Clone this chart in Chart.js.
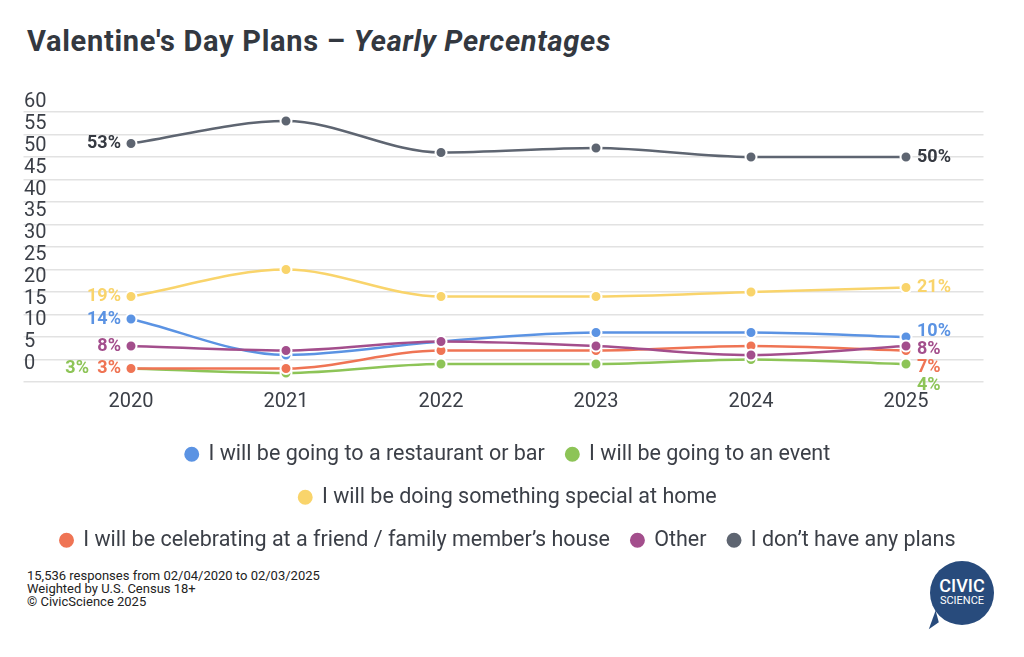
<!DOCTYPE html>
<html>
<head>
<meta charset="utf-8">
<script src="https://cdn.jsdelivr.net/npm/chart.js@4.4.1/dist/chart.umd.min.js"></script>
<style>
  body { margin: 0; background: #fff; font-family: Roboto, sans-serif; }
  #wrap { position: relative; width: 1024px; height: 657px; overflow: hidden; }
  h1 { position: absolute; left: 27px; top: 27px; margin: 0; font-size: 29px; line-height: 29px; letter-spacing: 0.7px; font-weight: 700; color: #333840; }
  h1 em { font-style: italic; }
  #box { position: absolute; left: 0; top: 0; width: 1024px; height: 561px; }
  .foot { position: absolute; left: 27px; top: 569px; font-size: 13px; line-height: 13px; color: #222; }
  .logo { position: absolute; left: 930px; top: 561px; width: 64px; height: 64px; border-radius: 50%; background: #284b7c; color: #fff; text-align: center; }
  .logo:after { content: ""; position: absolute; left: 2px; top: 50px; border-left: 7px solid #284b7c; border-top: 10px solid transparent; border-bottom: 10px solid transparent; transform: rotate(20deg); }
  .logo b { display: block; margin-top: 16px; font-size: 18px; line-height: 18px; font-weight: 500; }
  .logo span { display: block; font-size: 11px; line-height: 12px; }
</style>
</head>
<body>
<div id="wrap">
  <h1>Valentine's Day Plans – <em>Yearly Percentages</em></h1>
  <div id="box"><canvas id="myChart"></canvas></div>
  <div class="foot">15,536 responses from 02/04/2020 to 02/03/2025<br>Weighted by U.S. Census 18+<br>© CivicScience 2025</div>
  <div class="logo"><b>CIVIC</b><span>SCIENCE</span></div>
</div>
<script>
var years = ['2020', '2021', '2022', '2023', '2024', '2025'];
var yTicks = [0, 5, 10, 15, 20, 25, 30, 35, 40, 45, 50, 55, 60];

var restaurant = [14, 6, 9, 11, 11, 10];
var eventOut = [3, 2, 4, 4, 5, 4];
var atHome = [19, 25, 19, 19, 20, 21];
var friendHouse = [3, 3, 7, 7, 8, 7];
var other = [8, 7, 9, 8, 6, 8];
var noPlans = [53, 58, 51, 52, 50, 50];

var names = [
    'I will be going to a restaurant or bar',
    'I will be going to an event',
    'I will be doing something special at home',
    'I will be celebrating at a friend / family member’s house',
    'Other',
    'I don’t have any plans'
];
var colors = ['#5b93e3', '#8dc457', '#f9d46b', '#ef7454', '#a34e8c', '#5e6571'];
var labelColors = ['#5b93e3', '#8dc457', '#f9d46b', '#ef7454', '#a34e8c', '#363a42'];

// nudges for the first / last value labels [dx, dy]
var nudges = [
    {start: [-10, 0], end: [11, -6]},
    {start: [-42, 0], end: [11, 21]},
    {start: [-10, 0], end: [11, 0]},
    {start: [-10, 0], end: [11, 17]},
    {start: [-10, 0], end: [11, 3]},
    {start: [-10, 0], end: [11, 0]}
];

var series = [restaurant, eventOut, atHome, friendHouse, other, noPlans];
var datasets = [];
for (var i = 0; i < series.length; i++) {
    datasets.push({
        label: names[i],
        data: series[i],
        borderColor: colors[i],
        backgroundColor: colors[i],
        borderWidth: 2.5,
        pointRadius: 5.5,
        pointBorderWidth: 2,
        pointBackgroundColor: colors[i],
        pointBorderColor: '#fff',
        cubicInterpolationMode: 'monotone',
        order: series.length - i
    });
}

var edgeLabels = {
    id: 'edgeLabels',
    afterDatasetsDraw: function(chart) {
        var ctx = chart.ctx;
        ctx.save();
        ctx.font = 'bold 18px Roboto';
        ctx.textBaseline = 'middle';
        chart.data.datasets.forEach(function(ds, i) {
            var pts = chart.getDatasetMeta(i).data;
            var first = pts[0], last = pts[pts.length - 1];
            ctx.fillStyle = labelColors[i];
            ctx.textAlign = 'right';
            ctx.fillText(ds.data[0] + '%', first.x + nudges[i].start[0], first.y + nudges[i].start[1]);
            ctx.textAlign = 'left';
            ctx.fillText(ds.data[ds.data.length - 1] + '%', last.x + nudges[i].end[0], last.y + nudges[i].end[1]);
        });
        ctx.restore();
    }
};

var ctx = document.getElementById('myChart').getContext('2d');
var chart = new Chart(ctx, {
    type: 'line',
    data: { labels: years, datasets: datasets },
    plugins: [edgeLabels],
    options: {
        responsive: true,
        maintainAspectRatio: false,
        animation: false,
        layout: { padding: { top: 112, left: 24, right: 32, bottom: 0 } },
        plugins: {
            tooltip: { enabled: false },
            legend: {
                position: 'bottom',
                labels: {
                    usePointStyle: true,
                    pointStyle: 'circle',
                    boxWidth: 12,
                    boxHeight: 12,
                    padding: 21.5,
                    color: '#3b3f47',
                    font: { family: 'Roboto', size: 21.5 },
                    sort: function(a, b) { return a.datasetIndex - b.datasetIndex; }
                }
            }
        },
        scales: {
            x: {
                offset: true,
                grid: { display: false, drawTicks: false },
                border: { display: false },
                ticks: { padding: 8, color: '#3b3f47', font: { family: 'Roboto', size: 20 } },
                afterFit: function(s) { s.height = 40; }
            },
            y: {
                min: 0,
                max: 60,
                weight: 0,
                grid: { color: '#e2e2e2', lineWidth: 1.5, tickLength: 30, drawTicks: true },
                border: { display: false },
                ticks: { display: false, stepSize: 5 },
                afterFit: function(s) { s.width = 0; }
            },
            yl: {
                position: 'left',
                weight: 1,
                min: -4.12,
                max: 57.78,
                grid: { display: false, drawTicks: false },
                border: { display: false },
                ticks: { autoSkip: false, crossAlign: 'far', color: '#3b3f47', font: { family: 'Roboto', size: 20 } },
                afterBuildTicks: function(s) { s.ticks = yTicks.map(function(v) { return {value: v}; }); },
                afterFit: function(s) { s.width = 29.5; }
            },
            yr: {
                position: 'right',
                min: 0,
                max: 60,
                grid: { display: false, drawTicks: false },
                border: { display: false },
                ticks: { display: false },
                afterFit: function(s) { s.width = 8.5; }
            }
        }
    }
});
</script>
</body>
</html>
